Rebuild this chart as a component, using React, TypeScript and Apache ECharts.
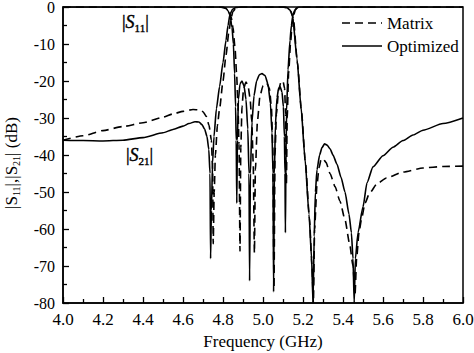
import React, { useEffect, useRef } from "react";
import * as echarts from "echarts";

const xTicks = ["4.0", "4.2", "4.4", "4.6", "4.8", "5.0", "5.2", "5.4", "5.6", "5.8", "6.0"];
const yTicks = [-80, -70, -60, -50, -40, -30, -20, -10, 0];
const legendNames = ["Matrix", "Optimized"];

// |S21| optimized (solid)
const s21Optimized: [number, number][] = [
  [4.0, -36], [4.1, -36.1], [4.2, -36.2], [4.3, -36], [4.4, -35.3], [4.5, -34], [4.55, -33.1],
  [4.6, -32.2], [4.63, -31.5], [4.66, -31], [4.68, -31.1], [4.695, -31.8], [4.708, -33], [4.72, -35],
  [4.729, -38.5], [4.735, -45], [4.738, -68], [4.742, -55], [4.748, -42], [4.755, -35], [4.767, -27.5],
  [4.783, -21.5], [4.8, -15], [4.815, -9], [4.825, -5], [4.835, -2], [4.848, -0.6], [4.865, -0.1],
  [4.89, 0], [5.1, 0], [5.12, -0.2], [5.135, -0.8], [5.148, -2.5], [5.17, -14], [5.19, -27],
  [5.21, -41], [5.23, -56], [5.243, -68], [5.25, -80], [5.256, -62], [5.262, -50], [5.27, -44],
  [5.283, -40], [5.295, -38], [5.308, -37], [5.32, -37.3], [5.335, -38.3], [5.35, -40],
  [5.37, -42.5], [5.39, -46], [5.41, -50], [5.43, -56], [5.442, -61], [5.45, -68], [5.456, -80],
  [5.462, -68], [5.475, -61], [5.5, -54], [5.52, -47.5], [5.55, -43.2], [5.6, -40.2], [5.65, -37.9],
  [5.7, -36.1], [5.75, -34.6], [5.8, -33.3], [5.9, -31.5], [6.0, -30],
];

// |S21| matrix (dashed)
const s21Matrix: [number, number][] = [
  [4.0, -36], [4.1, -34.8], [4.2, -33.4], [4.3, -32.3], [4.4, -31.3], [4.5, -29.8], [4.55, -28.9],
  [4.6, -28.2], [4.65, -27.7], [4.68, -27.8], [4.7, -28.3], [4.717, -29.6], [4.73, -32], [4.742, -36],
  [4.748, -44], [4.751, -64], [4.756, -50], [4.762, -40], [4.772, -32], [4.783, -27.5], [4.8, -20],
  [4.815, -13], [4.83, -6.5], [4.84, -3], [4.85, -1.2], [4.865, -0.3], [4.89, 0], [5.11, 0],
  [5.125, -0.3], [5.14, -1.2], [5.152, -3.2], [5.172, -15], [5.192, -28], [5.212, -42], [5.232, -57],
  [5.245, -70], [5.252, -80], [5.258, -60], [5.27, -48], [5.28, -43.5], [5.29, -41.3], [5.3, -41],
  [5.315, -42], [5.335, -45], [5.36, -48.5], [5.385, -52.5], [5.41, -57.5], [5.433, -64],
  [5.45, -70], [5.46, -78], [5.468, -68], [5.48, -61], [5.492, -57.5], [5.51, -53], [5.533, -50.3],
  [5.57, -47.8], [5.617, -46.2], [5.7, -44.6], [5.8, -43.5], [5.9, -43.1], [6.0, -43],
];

// |S11| optimized (solid)
const s11Optimized: [number, number][] = [
  [4.0, 0], [4.78, 0], [4.8, -0.1], [4.815, -0.4], [4.825, -1], [4.835, -2.2], [4.845, -5.5],
  [4.852, -10], [4.858, -18], [4.863, -27], [4.866, -36], [4.869, -53], [4.872, -36], [4.877, -25],
  [4.885, -20.8], [4.895, -20], [4.905, -21.3], [4.915, -25], [4.924, -33], [4.93, -45], [4.933, -74],
  [4.937, -45], [4.945, -31], [4.955, -24], [4.968, -20], [4.982, -18.3], [4.995, -18],
  [5.01, -18.5], [5.025, -20.8], [5.037, -26], [5.045, -34], [5.05, -45], [5.053, -77],
  [5.057, -45], [5.062, -32], [5.07, -24.5], [5.078, -22], [5.086, -21.6], [5.095, -23],
  [5.102, -27], [5.107, -35], [5.11, -45], [5.112, -61], [5.115, -40], [5.118, -28], [5.125, -17],
  [5.135, -9], [5.142, -5], [5.149, -2.4], [5.157, -1], [5.167, -0.3], [5.18, 0], [6.0, 0],
];

// |S11| matrix (dashed)
const s11Matrix: [number, number][] = [
  [4.0, 0], [4.79, 0], [4.81, -0.2], [4.822, -0.6], [4.832, -1.3], [4.84, -2.5], [4.85, -5.5],
  [4.86, -11], [4.868, -18], [4.875, -27], [4.88, -37], [4.885, -66], [4.889, -38], [4.895, -27],
  [4.903, -22], [4.915, -20.3], [4.925, -21.3], [4.935, -24.5], [4.944, -31], [4.951, -42],
  [4.957, -66.5], [4.962, -44], [4.972, -31], [4.985, -24], [5.0, -21.3], [5.018, -20.5],
  [5.032, -22], [5.042, -27], [5.049, -38], [5.055, -76], [5.06, -40], [5.067, -29], [5.078, -22.5],
  [5.09, -20.2], [5.1, -20], [5.108, -22], [5.113, -29], [5.117, -48], [5.121, -30], [5.128, -18],
  [5.138, -9.5], [5.146, -4.5], [5.153, -2.2], [5.162, -0.8], [5.172, -0.2], [5.185, 0], [6.0, 0],
];

const FONT = "'Liberation Serif', 'Times New Roman', serif";
const DASH = [8, 5];

export default function App() {
  const ref = useRef<HTMLDivElement>(null);
  useEffect(() => {
    if (!ref.current) return;
    const chart = echarts.init(ref.current, null, { renderer: "svg" });
    const lineW = 1.6;
    const mk = (name: string, data: [number, number][], dashed: boolean) => ({
      name,
      type: "line",
      data,
      symbol: "none",
      showSymbol: false,
      smooth: 0.2,
      smoothMonotone: "x",
      color: "#000",
      lineStyle: { color: "#000", width: lineW, type: dashed ? DASH : "solid" },
      clip: true,
    });
    const ink = { fill: "#000", stroke: "#000", lineWidth: 0.4 };
    const richLabel = {
      up: { fontFamily: FONT, fontSize: 18, lineHeight: 22, ...ink },
      it: { fontFamily: FONT, fontSize: 18, fontStyle: "italic", lineHeight: 22, ...ink },
      sb: { fontFamily: FONT, fontSize: 11, verticalAlign: "bottom", lineHeight: 22, ...ink },
    };
    const richTitle = {
      up: { fontFamily: FONT, fontSize: 17, fill: "#000", lineHeight: 20 },
      sb: { fontFamily: FONT, fontSize: 10, fill: "#000", verticalAlign: "bottom", lineHeight: 20 },
    };
    chart.setOption({
      animation: false,
      backgroundColor: "#fff",
      textStyle: { fontFamily: FONT, color: "#000" },
      grid: {
        left: 63,
        right: 11,
        top: 7,
        bottom: 50,
        show: true,
        borderColor: "#000",
        borderWidth: 1.5,
        backgroundColor: "transparent",
        outerBoundsMode: "none",
        containLabel: false,
      },
      xAxis: {
        type: "value",
        min: 4.0,
        max: 6.0,
        interval: 0.2,
        name: "Frequency (GHz)",
        nameLocation: "middle",
        nameGap: 30,
        nameTextStyle: { fontFamily: FONT, fontSize: 17, color: "#000" },
        axisLine: { show: true, onZero: false, lineStyle: { color: "#000", width: 1.5 } },
        axisTick: { show: true, inside: true, length: 6, lineStyle: { color: "#000", width: 1.3 } },
        minorTick: { show: true, splitNumber: 2, length: 4, lineStyle: { color: "#000", width: 1.3 } },
        splitLine: { show: false },
        axisLabel: {
          fontFamily: FONT,
          fontSize: 17,
          color: "#000",
          margin: 8,
          formatter: (v: number) => {
            const idx = Math.round((v - 4.0) / 0.2);
            return xTicks[idx] ?? v.toFixed(1);
          },
        },
      },
      yAxis: {
        type: "value",
        min: yTicks[0],
        max: yTicks[yTicks.length - 1],
        interval: 10,
        axisLine: { show: true, onZero: false, lineStyle: { color: "#000", width: 1.5 } },
        axisTick: { show: true, inside: true, length: 6, lineStyle: { color: "#000", width: 1.3 } },
        minorTick: { show: true, splitNumber: 2, length: 4, lineStyle: { color: "#000", width: 1.3 } },
        splitLine: { show: false },
        axisLabel: { fontFamily: FONT, fontSize: 16, color: "#000", margin: 8 },
      },
      graphic: [
        {
          type: "text",
          x: 11,
          y: 163,
          rotation: Math.PI / 2,
          style: {
            text: "{up||S}{sb|11}{up||,|S}{sb|21}{up|| (dB)}",
            rich: richTitle,
            align: "center",
            verticalAlign: "middle",
          },
        },
        {
          type: "text",
          x: 122,
          y: 11,
          style: { text: "{up||}{it|S}{sb|11}{up||}", rich: richLabel },
        },
        {
          type: "text",
          x: 126,
          y: 144,
          style: { text: "{up||}{it|S}{sb|21}{up||}", rich: richLabel },
        },
        {
          type: "line",
          shape: { x1: 342, y1: 23, x2: 382, y2: 23 },
          style: { stroke: "#000", lineWidth: lineW, lineDash: DASH },
        },
        {
          type: "text",
          x: 387,
          y: 23,
          style: {
            text: legendNames[0],
            font: `17px ${FONT}`,
            fill: "#000",
            verticalAlign: "middle",
          },
        },
        {
          type: "line",
          shape: { x1: 342, y1: 46, x2: 382, y2: 46 },
          style: { stroke: "#000", lineWidth: lineW },
        },
        {
          type: "text",
          x: 387,
          y: 46,
          style: {
            text: legendNames[1],
            font: `17px ${FONT}`,
            fill: "#000",
            verticalAlign: "middle",
          },
        },
      ],
      series: [
        mk(legendNames[0], s21Matrix, true),
        mk(legendNames[0], s11Matrix, true),
        mk(legendNames[1], s21Optimized, false),
        mk(legendNames[1], s11Optimized, false),
      ],
    });
    return () => chart.dispose();
  }, []);
  return <div ref={ref} style={{ width: 474, height: 353, position: "absolute", left: 0, top: 0 }} />;
}
